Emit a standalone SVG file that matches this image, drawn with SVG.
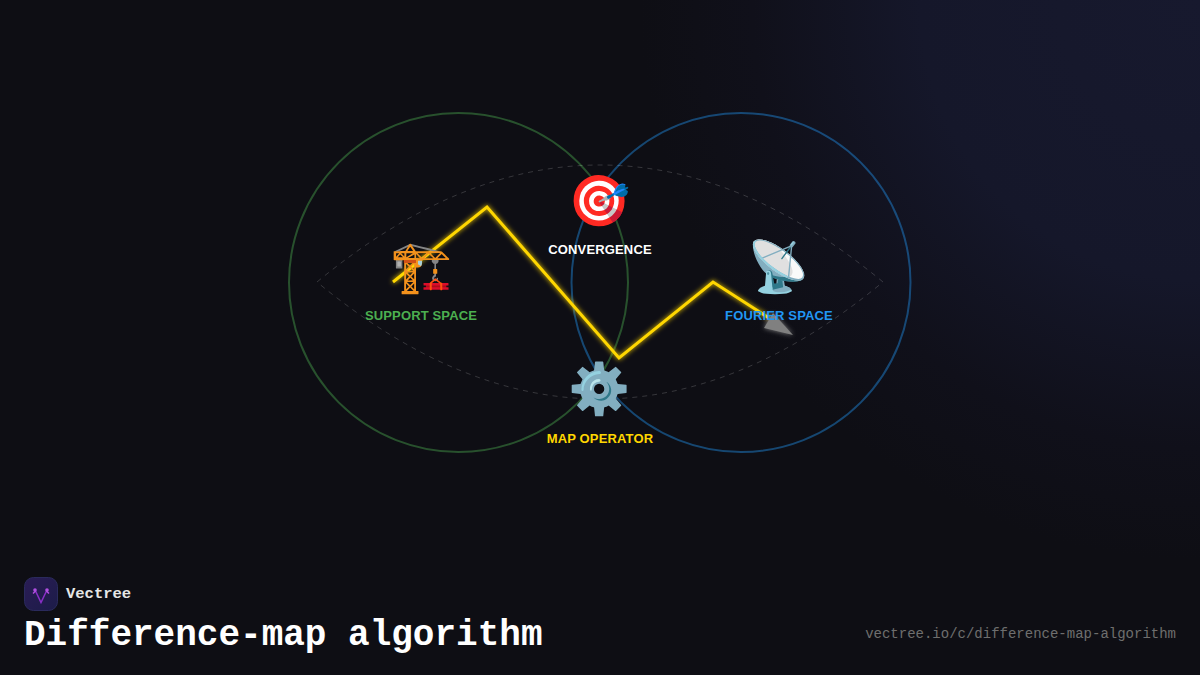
<svg xmlns="http://www.w3.org/2000/svg" width="1200" height="675" viewBox="0 0 1200 675">
<style>
.lbl{font:bold 13px "Liberation Sans",Arial,sans-serif;text-anchor:middle;letter-spacing:.15px}
.emo{font-size:50px;text-anchor:middle;font-family:"Noto Color Emoji","Liberation Sans",sans-serif}
.mono{font-family:"Liberation Mono","Courier New",monospace}
</style>
<defs>
<radialGradient id="bg" gradientUnits="userSpaceOnUse" cx="1200" cy="0" r="560">
<stop offset="0" stop-color="#17192e"/><stop offset=".5" stop-color="#15172a"/><stop offset=".8" stop-color="#10101a"/><stop offset="1" stop-color="#0e0e14"/>
</radialGradient>
<filter id="glow" x="-20%" y="-20%" width="140%" height="140%"><feGaussianBlur stdDeviation="2.5" result="b"/><feMerge><feMergeNode in="b"/><feMergeNode in="SourceGraphic"/></feMerge></filter>
<linearGradient id="logo" x1="0" y1="0" x2="1" y2="1"><stop offset="0" stop-color="#2a1c55"/><stop offset="1" stop-color="#1c1c48"/></linearGradient>
</defs>
<rect width="1200" height="675" fill="#0e0e14"/>
<rect width="1200" height="675" fill="url(#bg)"/>
<g id="connectors" fill="none">
<circle cx="458.500" cy="282.500" r="169.500" stroke="#4caf50" stroke-opacity=".42" stroke-width="2"/>
<circle cx="741" cy="282.500" r="169.500" stroke="#2196f3" stroke-opacity=".42" stroke-width="2"/>
<path d="M317 282Q600 48 883 282Q600 516 317 282Z" stroke="#fff" stroke-opacity=".17" stroke-width="1" stroke-dasharray="5 5"/>
<g filter="url(#glow)">
<polyline points="393,282 487,207 619,358 713,282 769,318" stroke="#ffd700" stroke-width="3"/>
<polygon points="793,335 764,328 773,313" fill="#808080" stroke="none"/>
</g>
</g>
<g id="support"><text class="emo" x="422" y="284">🏗️</text><text class="lbl" x="421" y="320" fill="#4caf50">SUPPORT SPACE</text></g>
<g id="fourier"><text class="emo" x="779" y="284">📡</text><text class="lbl" x="779" y="320" fill="#2196f3">FOURIER SPACE</text></g>
<g id="convergence"><text class="emo" x="600" y="218">🎯</text><text class="lbl" x="600" y="254" fill="#fff">CONVERGENCE</text></g>
<g id="map"><text class="emo" x="600" y="406">⚙️</text><text class="lbl" x="600" y="443" fill="#ffd700">MAP OPERATOR</text></g>
<g id="brand">
<rect x="24.500" y="577.500" width="33" height="33" rx="9" fill="url(#logo)" stroke="#2a2a5c"/>
<path d="M35.500 591L41 602.500L46.500 591" fill="none" stroke="#8a2fc8" stroke-width="1.500"/>
<path d="M33 593.500L35.500 591M49 593.500L46.500 591" stroke="#b04fe0" stroke-width="1.500"/>
<circle cx="35" cy="590" r="1.800" fill="#b04fe0"/><circle cx="47" cy="590" r="1.800" fill="#b04fe0"/>
<text class="mono" x="66" y="598" font-size="15.500" font-weight="700" fill="#e6e6e6">Vectree</text>
<text class="mono" x="24" y="645" font-size="36" font-weight="700" fill="#fff">Difference-map algorithm</text>
<text class="mono" x="1176" y="637.500" font-size="14" fill="#6e6e6e" text-anchor="end">vectree.io/c/difference-map-algorithm</text>
</g>
</svg>
